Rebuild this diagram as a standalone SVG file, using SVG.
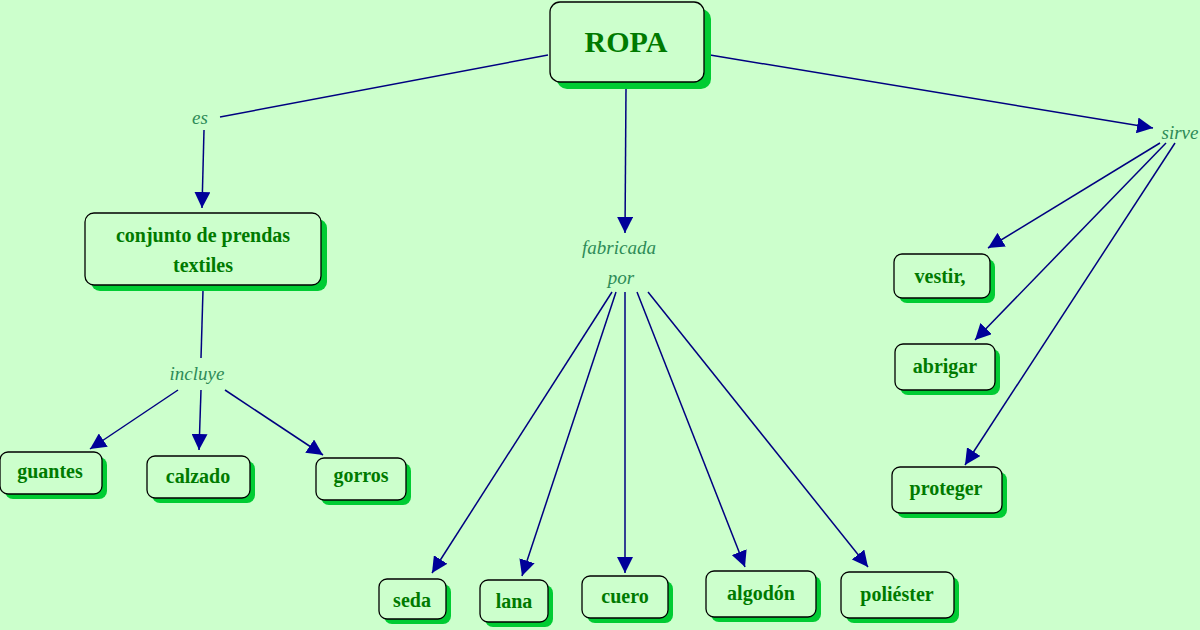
<svg xmlns="http://www.w3.org/2000/svg" width="1200" height="630" viewBox="0 0 1200 630">
<style>
.n rect.b{fill:#ccffcc;stroke:#000;stroke-width:1.3}
.n rect.s{fill:#00cc33}
.n text{font-family:"Liberation Serif",serif;font-weight:bold;font-size:20px;fill:#007a00;text-anchor:middle}
.l{font-family:"Liberation Serif",serif;font-style:italic;font-size:19px;fill:#2e8b57;text-anchor:middle}
#edges line{stroke:#000080;stroke-width:1.5}
</style>
<defs><marker id="a" viewBox="0 0 10 10" refX="10" refY="5" markerWidth="16" markerHeight="16" markerUnits="userSpaceOnUse" orient="auto"><path d="M0,0L10,5L0,10z" fill="#000099"/></marker></defs>
<rect width="1200" height="630" fill="#ccffcc"/>
<g id="edges">
<line x1="548" y1="55" x2="220" y2="117"/>
<line x1="204" y1="130" x2="202" y2="208" marker-end="url(#a)"/>
<line x1="626" y1="88" x2="625" y2="233" marker-end="url(#a)"/>
<line x1="710" y1="55" x2="1153" y2="128" marker-end="url(#a)"/>
<line x1="203" y1="290" x2="201" y2="358"/>
<line x1="178" y1="390" x2="90" y2="449" marker-end="url(#a)"/>
<line x1="201" y1="390" x2="199" y2="450" marker-end="url(#a)"/>
<line x1="225" y1="390" x2="323" y2="455" marker-end="url(#a)"/>
<line x1="612" y1="292" x2="432" y2="573" marker-end="url(#a)"/>
<line x1="616" y1="292" x2="522" y2="576" marker-end="url(#a)"/>
<line x1="625" y1="292" x2="625" y2="573" marker-end="url(#a)"/>
<line x1="637" y1="292" x2="745" y2="567" marker-end="url(#a)"/>
<line x1="648" y1="292" x2="868" y2="567" marker-end="url(#a)"/>
<line x1="1160" y1="143" x2="988" y2="248" marker-end="url(#a)"/>
<line x1="1166" y1="143" x2="975" y2="340" marker-end="url(#a)"/>
<line x1="1175" y1="143" x2="965" y2="465" marker-end="url(#a)"/>
</g>
<text class="l" x="200" y="124">es</text>
<text class="l" x="619" y="254">fabricada</text>
<text class="l" x="621" y="284">por</text>
<text class="l" x="197" y="380">incluye</text>
<text class="l" x="1180" y="139">sirve</text>
<g id="ropa" class="n"><rect class="s" x="557" y="9" width="154" height="80" rx="10"/><rect class="b" x="550" y="2" width="154" height="80" rx="10"/><text x="626" y="52" style="font-size:30px">ROPA</text></g>
<g id="conjunto" class="n"><rect class="s" x="91" y="219" width="236" height="72" rx="9"/><rect class="b" x="85" y="213" width="236" height="72" rx="9"/><text x="203" y="242">conjunto de prendas</text><text x="203" y="272">textiles</text></g>
<g id="guantes" class="n"><rect class="s" x="5" y="457" width="102" height="42" rx="8"/><rect class="b" x="0" y="452" width="102" height="42" rx="8"/><text x="50" y="478">guantes</text></g>
<g id="calzado" class="n"><rect class="s" x="152" y="461" width="103" height="42" rx="8"/><rect class="b" x="147" y="456" width="103" height="42" rx="8"/><text x="198" y="483">calzado</text></g>
<g id="gorros" class="n"><rect class="s" x="321" y="463" width="90" height="42" rx="8"/><rect class="b" x="316" y="458" width="90" height="42" rx="8"/><text x="361" y="482">gorros</text></g>
<g id="seda" class="n"><rect class="s" x="384" y="584" width="67" height="40" rx="8"/><rect class="b" x="379" y="579" width="67" height="40" rx="8"/><text x="412" y="607">seda</text></g>
<g id="lana" class="n"><rect class="s" x="485" y="585" width="68" height="42" rx="8"/><rect class="b" x="480" y="580" width="68" height="42" rx="8"/><text x="514" y="608">lana</text></g>
<g id="cuero" class="n"><rect class="s" x="587" y="581" width="86" height="42" rx="8"/><rect class="b" x="582" y="576" width="86" height="42" rx="8"/><text x="625" y="603">cuero</text></g>
<g id="algodon" class="n"><rect class="s" x="711" y="576" width="110" height="46" rx="8"/><rect class="b" x="706" y="571" width="110" height="46" rx="8"/><text x="761" y="600">algodón</text></g>
<g id="poliester" class="n"><rect class="s" x="846" y="577" width="113" height="46" rx="8"/><rect class="b" x="841" y="572" width="113" height="46" rx="8"/><text x="897" y="601">poliéster</text></g>
<g id="vestir" class="n"><rect class="s" x="899" y="259" width="96" height="44" rx="8"/><rect class="b" x="894" y="254" width="96" height="44" rx="8"/><text x="940" y="283">vestir,</text></g>
<g id="abrigar" class="n"><rect class="s" x="900" y="349" width="100" height="46" rx="8"/><rect class="b" x="895" y="344" width="100" height="46" rx="8"/><text x="945" y="373">abrigar</text></g>
<g id="proteger" class="n"><rect class="s" x="897" y="472" width="110" height="46" rx="8"/><rect class="b" x="892" y="467" width="110" height="46" rx="8"/><text x="946" y="495">proteger</text></g>
</svg>
